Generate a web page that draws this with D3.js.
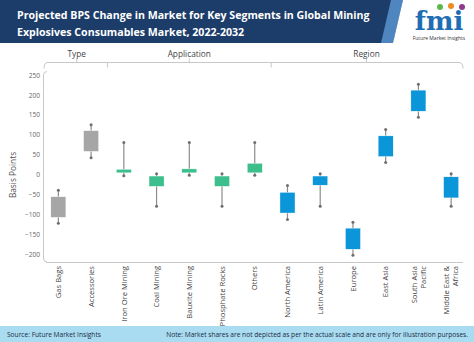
<!DOCTYPE html>
<html>
<head>
<meta charset="utf-8">
<script src="https://cdn.jsdelivr.net/npm/d3@7"></script>
<style>
  html, body { margin: 0; padding: 0; background: #fff; }
  svg { display: block; }
</style>
</head>
<body>
<script>
// ---- Data ----
const categories = ["Gas Bags","Accessories","Iron Ore Mining","Coal Mining","Bauxite Mining","Phosphate Rocks","Others","North America","Latin America","Europe","East Asia","South Asia Pacific","Middle East & Africa"];
const categoryLines = [["Gas Bags"],["Accessories"],["Iron Ore Mining"],["Coal Mining"],["Bauxite Mining"],["Phosphate Rocks"],["Others"],["North America"],["Latin America"],["Europe"],["East Asia"],["South Asia","Pacific"],["Middle East &","Africa"]];
const groupOf = ["Type","Type","Application","Application","Application","Application","Application","Region","Region","Region","Region","Region","Region"];
const groupNames = ["Type","Application","Region"];
const whiskerMax = [-40, 125, 80, 2, 80, 2, 80, -28, 2, -120, 113, 227, 2];
const boxTop     = [-56, 110, 13, -4, 14, -4, 28, -45, -4, -135, 97, 212, -6];
const boxBottom  = [-108, 58, 4, -30, 4, -30, 4, -97, -27, -188, 45, 159, -59];
const whiskerMin = [-123, 42, -3, -80, -2, -80, -2, -113, -80, -203, 30, 144, -80];
const yTicks = [-200,-150,-100,-50,0,50,100,150,200,250];
const groupColors = {"Type":"#a6a6a6","Application":"#3dbf8d","Region":"#0a96d8"};

const W = 474, H = 342;
const svg = d3.select("body").append("svg").attr("width", W).attr("height", H);
const FONT = "'Open Sans', 'Liberation Sans', sans-serif";

// ---- Title bar ----
svg.append("rect").attr("x",0).attr("y",0).attr("width",W).attr("height",43).attr("fill","#1c3c69");
svg.append("polygon").attr("points","391,0 403,0 393,43 381,43").attr("fill","#4f86c0");
svg.append("polygon").attr("points","403,0 474,0 474,43 393,43").attr("fill","#ffffff");
svg.append("text").attr("x",17).attr("y",19).attr("fill","#fff").attr("font-family",FONT)
  .attr("font-weight","bold").attr("font-size","10.6px").text("Projected BPS Change in Market for Key Segments in Global Mining");
svg.append("text").attr("x",17).attr("y",36).attr("fill","#fff").attr("font-family",FONT)
  .attr("font-weight","bold").attr("font-size","10.6px").text("Explosives Consumables Market, 2022-2032");

// Logo
const logo = svg.append("g");
logo.append("text").attr("x",439).attr("y",30).attr("text-anchor","middle")
  .attr("font-family","'DejaVu Serif', serif").attr("font-weight","bold").attr("font-size","26px")
  .attr("fill","#1f6db3").text("fmi");
[["#5cb84a",440,7],["#f08a24",451,6],["#8e3a8c",462,7]].forEach(([c,cx,cy]) => {
  logo.append("circle").attr("cx",cx).attr("cy",cy).attr("r",3).attr("fill",c);
});
logo.append("text").attr("x",439).attr("y",40).attr("text-anchor","middle")
  .attr("font-family",FONT).attr("font-size","5px").attr("fill","#333").text("Future Market Insights");

// ---- Scales ----
const x = d3.scaleBand().domain(categories).range([42, 467.5]).padding(0);
const y = d3.scaleLinear().domain([-200, 250]).range([254, 75]);
const bw = x.bandwidth() * 0.46;

// ---- Frame ----
const frameColor = "#c8c8c8";
svg.append("path").attr("fill","none").attr("stroke",frameColor).attr("stroke-width",1)
  .attr("d","M47,71.5 Q43.5,71.5 43.5,75 L43.5,258 Q43.5,262 47,262");
svg.append("path").attr("fill","none").attr("stroke",frameColor).attr("stroke-width",1)
  .attr("d","M46,262.5 L463,262.5");

// Group header bracket
const groupSpans = groupNames.map(g => {
  const idx = groupOf.map((d,i)=>d===g?i:-1).filter(i=>i>=0);
  return {g, x0: x(categories[idx[0]]), x1: x(categories[idx[idx.length-1]]) + x.bandwidth()};
});
const bx0 = 46, bx1 = 462, by = 62.5;
svg.append("path").attr("fill","none").attr("stroke",frameColor).attr("stroke-width",1)
  .attr("d",`M${bx0-2},${by+6} Q${bx0-2},${by} ${bx0+2},${by} L${bx1-3},${by} Q${bx1+1},${by} ${bx1+1},${by+6}`);
groupSpans.forEach((s,i) => {
  const a = Math.max(s.x0, bx0), b = Math.min(s.x1, bx1);
  const cx = (a + b) / 2;
  svg.append("line").attr("x1",cx).attr("x2",cx).attr("y1",by-4).attr("y2",by).attr("stroke",frameColor);
  svg.append("text").attr("x",cx).attr("y",by-6).attr("text-anchor","middle")
    .attr("font-family",FONT).attr("font-size","8.3px").attr("fill","#444").text(s.g);
  if (i < groupSpans.length - 1) {
    svg.append("line").attr("x1",s.x1).attr("x2",s.x1).attr("y1",by).attr("y2",by+5).attr("stroke",frameColor);
  }
});

// ---- Y axis ----
const yAxis = svg.append("g").attr("transform","translate(41,0)")
  .call(d3.axisLeft(y).tickValues(yTicks).tickSize(0).tickPadding(1));
yAxis.select(".domain").remove();
yAxis.selectAll("text").attr("font-family",FONT).attr("font-size","6.6px").attr("fill","#666");

svg.append("text").attr("transform","translate(16,175) rotate(-90)").attr("text-anchor","middle")
  .attr("font-family",FONT).attr("font-size","8.3px").attr("fill","#555").text("Basis Points");

// ---- X labels ----
categoryLines.forEach((lines,i) => {
  const cx = x(categories[i]) + x.bandwidth()/2;
  const n = lines.length;
  const t = svg.append("text").attr("transform",`translate(${cx},266) rotate(-90)`)
    .attr("text-anchor","end").attr("font-family",FONT).attr("font-size","7.6px").attr("fill","#444");
  lines.forEach((ln,j) => {
    const off = (j - (n-1)/2) * 9 + 2.7;
    t.append("tspan").attr("x",0).attr("y",off).text(ln);
  });
});

// ---- Boxes ----
const data = categories.map((c,i) => ({c, g: groupOf[i], max: whiskerMax[i], q3: boxTop[i], q1: boxBottom[i], min: whiskerMin[i]}));
const gB = svg.append("g");
data.forEach(d => {
  const cx = x(d.c) + x.bandwidth()/2;
  gB.append("line").attr("x1",cx).attr("x2",cx).attr("y1",y(d.max)).attr("y2",y(d.min))
    .attr("stroke","#8c8c8c").attr("stroke-width",1.2);
  gB.append("circle").attr("cx",cx).attr("cy",y(d.max)).attr("r",1.5).attr("fill","#6e6e6e");
  gB.append("circle").attr("cx",cx).attr("cy",y(d.min)).attr("r",1.5).attr("fill","#6e6e6e");
  gB.append("rect").attr("x",cx-bw/2).attr("width",bw)
    .attr("y",y(d.q3)).attr("height",y(d.q1)-y(d.q3))
    .attr("fill",groupColors[d.g]).attr("stroke","#ffffff").attr("stroke-width",0.4);
});

// ---- Footer ----
svg.append("rect").attr("x",0).attr("y",326).attr("width",W).attr("height",16).attr("fill","#a9dcf0");
svg.append("text").attr("x",7).attr("y",337).attr("font-family",FONT).attr("font-size","6.6px")
  .attr("fill","#1a2a44").text("Source: Future Market Insights");
svg.append("text").attr("x",468).attr("y",337).attr("text-anchor","end").attr("font-family",FONT).attr("font-size","6.6px")
  .attr("fill","#1a2a44").text("Note: Market shares are not depicted as per the actual scale and are only for illustration purposes.");
</script>
</body>
</html>
